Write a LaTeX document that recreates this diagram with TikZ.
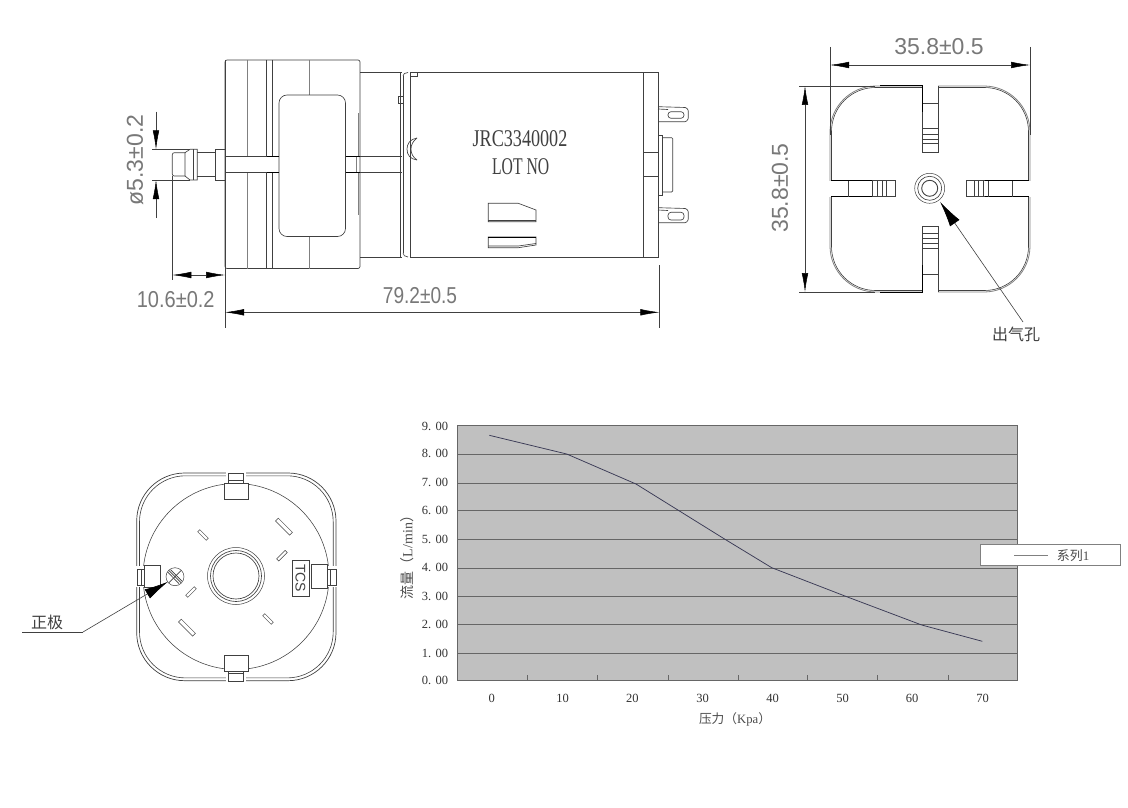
\documentclass[tikz,border=0pt]{standalone}
\usepackage{fontspec}
\usetikzlibrary{arrows.meta,calc}
\setmainfont{Liberation Serif}
\newfontfamily\dimfont{Liberation Sans}
\newfontfamily\cjkfont{Noto Sans CJK SC}
\newcommand{\fs}[1]{\fontsize{#1}{#1}\selectfont}
\definecolor{plotgray}{HTML}{C0C0C0}
\definecolor{gridgray}{HTML}{666666}
\definecolor{curveblue}{HTML}{3A3A55}
\definecolor{dimgray}{HTML}{787878}
\definecolor{inkgray}{HTML}{404040}
\tikzset{
  part/.style={draw=inkgray,line width=.65pt},
  thinpart/.style={draw=gray,line width=.6pt},
  heavy/.style={draw=black,line width=1pt},
  ext/.style={draw=inkgray,line width=.5pt},
  dimtip/.style={Latex[length=19pt,width=6.5pt,fill=black,color=black]},
  dimline/.style={draw=inkgray,line width=.5pt,{Latex[length=19pt,width=6.5pt,fill=black,color=black]}-{Latex[length=19pt,width=6.5pt,fill=black,color=black]}},
  dimarrow/.style={draw=inkgray,line width=.5pt,-{Latex[length=19pt,width=6.5pt,fill=black,color=black]}},
  leader/.style={draw=inkgray,line width=.6pt,-{Latex[length=24pt,width=10.5pt,fill=black,color=black]}},
  dimtext/.style={inner sep=0pt,text=dimgray,font=\dimfont\fs{23}},
  cjktext/.style={inner sep=0pt,text=inkgray,font=\cjkfont\fs{16}},
  motortext/.style={inner sep=0pt,text=inkgray,font=\fs{24}},
  ticklabel/.style={inner sep=0pt,text=black!80,font=\fs{12.5}},
  axistitle/.style={inner sep=0pt,text=black!70},
  gridline/.style={draw=gridgray,line width=.9pt},
  slotmark/.style={draw=inkgray,line width=.5pt,fill=white,inner sep=0pt,rectangle},
}
\begin{document}
\begin{tikzpicture}[x=1pt,y=-1pt]
\useasboundingbox (0,0) rectangle (1128,808);
\fill[white] (0,0) rectangle (1128,808);

%% ---------- side view ----------
% pump block
\draw[part,rounded corners=2pt] (225,60) rectangle (360,268.5);
\draw[part,line width=.9pt] (225,60) -- (225,268.5);
\draw[thinpart] (247,60) -- (247,156.5) (247,172) -- (247,268.5);
\draw[part] (266.5,60) -- (266.5,156.5) (266.5,172) -- (266.5,268.5);
\draw[part] (272,60) -- (272,156.5) (272,172) -- (272,268.5);
\draw[thinpart] (309.5,60) -- (309.5,95) (309.5,236.5) -- (309.5,268.5);
\draw[thinpart] (358,113) -- (358,156.5) (358,172) -- (358,215);
\draw[part,rounded corners=8pt] (279,95) rectangle (345.5,236.5);
\draw[part] (225,156.5) -- (279,156.5) (225,172) -- (279,172);
\draw[part] (345.5,156.5) -- (402,156.5) (345.5,172) -- (402,172);
\draw[heavy] (266.5,156.5) -- (279,156.5) (266.5,172) -- (279,172);
\draw[heavy] (345.5,156.5) -- (360,156.5) (345.5,172) -- (360,172);
\draw[thinpart] (356,156.5) -- (356,172);
% collar
\draw[part] (360,72) -- (402,72) (360,257) -- (402,257);
\draw[part] (400,72) -- (400,257);
\draw[part] (403,76) -- (403,253);
\draw[part] (398,96.5) rectangle (403,103);
\draw[part] (403,76) .. controls (403,74) and (405,72.5) .. (408,72.5);
\draw[part] (403,253) .. controls (403,255) and (405,257) .. (408,257);
% nozzle
\draw[part,rounded corners=2pt] (185,152.7) -- (172.3,152.7) -- (172.3,176) -- (185,176);
\draw[part] (185,152.7) -- (190,149.3) -- (197.3,149.3) -- (197.3,180) -- (190,180) -- (185,176) -- cycle;
\draw[part] (193.5,149.3) -- (193.5,180);
\draw[part] (197.3,152.7) -- (215,152.7) (197.3,176) -- (215,176);
\draw[part] (215,149) rectangle (225,180);
% motor body
\draw[part] (410,72.5) rectangle (658,257);
\draw[part] (643,72.5) -- (643,257);
\draw[part] (410,72.5) -- (417,72.5) -- (417,76) -- (410,76);
\draw[part] (417,138) .. controls (410,139) and (407,144) .. (407,149) .. controls (407,155) and (410,159) .. (417,160);
\draw[part] (417,138) .. controls (413,141) and (411,145) .. (411,149) .. controls (411,154) and (413,157) .. (417,160);
\node[motortext,xscale=.756] (motorcode) at (520,139) {JRC3340002};
\node[motortext,xscale=.654] (motorlot) at (520.7,166.7) {LOT NO};
\draw[part] (488.3,203.3) -- (518.3,203.3) -- (536,210) -- (536,221.7) -- (488.3,221.7) -- cycle;
\draw[part] (488.3,220) -- (536,220);
\draw[part] (488.3,237) -- (536,237) -- (536,245) -- (518.3,247.7) -- (488.3,247.7) -- cycle;
\draw[heavy] (488.3,237) -- (536,237);
\draw[part] (488.3,246) -- (518.3,246) -- (536,243.5);
% terminals
\draw[part,rounded corners=1pt] (658,106.7) -- (686,107.5) -- (688.3,110) -- (688.3,119) -- (686,121.7) -- (658,121.7);
\draw[part] (658,109) -- (668,109.5);
\draw[part,rounded corners=3pt] (668,111.7) rectangle (684,118.3);
\draw[part,rounded corners=1pt] (658,207.7) -- (686,208.5) -- (688.3,211) -- (688.3,220) -- (686,222.7) -- (658,222.7);
\draw[part] (658,210) -- (668,210.5);
\draw[part,rounded corners=3pt] (668,212.3) rectangle (684,220);
% rear boss
\draw[part] (643,152.7) rectangle (658,176.7);
\draw[part] (658,135) -- (662.7,135) -- (662.7,195) -- (658,195);
\draw[part,rounded corners=1pt] (662.7,137.7) -- (672.7,137.7) -- (672.7,192) -- (662.7,192);
% dimensions of side view
\coordinate (d53a) at (156,149.3);
\coordinate (d53aend) at (156,111.7);
\coordinate (d53b) at (156,180);
\coordinate (d53bend) at (156,218);
\draw[ext] (152,149.3) -- (190,149.3);
\draw[ext] (152,180) -- (190,180);
\draw[dimarrow] (d53aend) -- (d53a);
\draw[dimarrow] (d53bend) -- (d53b);
\node[dimtext,rotate=90] (dimA) at (135,160) {ø5.3±0.2};
\coordinate (d106a) at (172.3,275);
\coordinate (d106b) at (225,275);
\draw[ext] (172.3,176) -- (172.3,280);
\draw[dimline] (d106a) -- (d106b);
\node[dimtext,xscale=.87] (dimB) at (175.7,299.3) {10.6±0.2};
\coordinate (d792a) at (225,312.3);
\coordinate (d792b) at (659.3,312.3);
\draw[ext] (225,268.5) -- (225,328);
\draw[ext] (659.3,265) -- (659.3,328);
\draw[dimline] (d792a) -- (d792b);
\node[dimtext,xscale=.83] (dimC) at (420,296) {79.2±0.5};

%% ---------- front view ----------
\draw[draw=gray,line width=.8pt,rounded corners=46pt] (830,86) rectangle (1030,292);
\draw[draw=inkgray,line width=.6pt,rounded corners=44pt] (831.5,87.5) rectangle (1028.5,290.5);
\draw[heavy] (880,86) -- (922.7,86) (880,292) -- (922.7,292);
\foreach \ya/\yb in {85/152.3,226/293}{\fill[white] (922.7,\ya) rectangle (938.3,\yb);}
\foreach \xa/\xb in {829/895,966/1031}{\fill[white] (\xa,180.7) rectangle (\xb,196.7);}
\draw[part] (922.7,86) -- (922.7,152.3) -- (938.3,152.3) -- (938.3,86);
\draw[heavy] (922.7,86) -- (922.7,112);
\draw[part] (922.7,103) -- (938.3,103) (922.7,128.3) -- (938.3,128.3) (922.7,134.3) -- (938.3,134.3) (922.7,139) -- (938.3,139) (922.7,143.3) -- (938.3,143.3);
\draw[part] (922.7,292) -- (922.7,226) -- (938.3,226) -- (938.3,292);
\draw[heavy] (922.7,292) -- (922.7,265);
\draw[part] (922.7,233) -- (938.3,233) (922.7,238) -- (938.3,238) (922.7,243) -- (938.3,243) (922.7,248) -- (938.3,248) (922.7,274) -- (938.3,274);
\draw[part] (831,180.7) -- (895,180.7) -- (895,196.7) -- (831,196.7);
\draw[heavy] (831,180.7) -- (872,180.7) (831,196.7) -- (872,196.7);
\draw[part] (848.3,180.7) -- (848.3,196.7) (872.3,180.7) -- (872.3,196.7) (877.7,180.7) -- (877.7,196.7) (882.3,180.7) -- (882.3,196.7) (886.7,180.7) -- (886.7,196.7);
\draw[part] (1029,180.7) -- (966,180.7) -- (966,196.7) -- (1029,196.7);
\draw[heavy] (1029,180.7) -- (985,180.7) (1029,196.7) -- (985,196.7);
\draw[part] (974,180.7) -- (974,196.7) (978,180.7) -- (978,196.7) (983,180.7) -- (983,196.7) (988,180.7) -- (988,196.7) (1012,180.7) -- (1012,196.7);
\node[circle,draw=inkgray,line width=.5pt,minimum size=30pt,inner sep=0pt] (outlet) at (929.7,188.3) {};
\draw[part] (outlet.center) circle[radius=12pt];
\draw[part,line width=.9pt] (outlet.center) circle[radius=8pt];
\coordinate (outlettip) at (940,201.7);
\node[cjktext] (outletlabel) at (1016,334) {出气孔};
\coordinate (outletfoot) at (1023,322);
\draw[leader,-{Latex[length=26pt,width=11.5pt,fill=black,color=black]}] (outletfoot) -- (outlettip);
\coordinate (dTa) at (830,65);
\coordinate (dTb) at (1030,65);
\draw[ext] (830,47) -- (830,135) (1030,47) -- (1030,135);
\draw[dimline] (dTa) -- (dTb);
\node[dimtext] (dimD) at (939,47) {35.8±0.5};
\coordinate (dLa) at (805,86);
\coordinate (dLb) at (805,292);
\draw[ext] (799,86) -- (875,86) (799,292) -- (875,292);
\draw[dimline] (dLa) -- (dLb);
\node[dimtext] [rotate=90] (dimE) at (780,188) {35.8±0.5};

%% ---------- rear view ----------
\draw[draw=inkgray,line width=.7pt,rounded corners=48pt] (136.7,473) rectangle (336,680.7);
\draw[draw=inkgray,line width=.6pt,rounded corners=46pt] (139.5,475.8) rectangle (333.2,677.9);
\draw[part,line width=.55pt] (236,576.5) circle[radius=93pt];
\foreach \xa/\ya/\xb/\yb in {226/471/246/483,226/671/246/683,134/566/145/587,327/566/339/587}{\fill[white] (\xa,\ya) rectangle (\xb,\yb);}
% tabs and boxes
\draw[part,fill=white] (224,483) rectangle (248,499);
\draw[part] (228,473) rectangle (243,483);
\draw[part] (228,480.5) -- (243,480.5);
\draw[part,fill=white] (224,655) rectangle (248,671);
\draw[part] (228,671) rectangle (243,681);
\draw[part] (228,673.5) -- (243,673.5);
\draw[part,fill=white] (144,565) rectangle (160,587);
\draw[part] (137,569) rectangle (144,585);
\draw[part] (141,569) -- (141,585);
\draw[part,fill=white] (311,564) rectangle (327,588);
\draw[part] (327,569) rectangle (336,585);
\draw[part] (330,569) -- (330,585);
% hub
\node[circle,draw=inkgray,line width=.5pt,minimum size=57pt,inner sep=0pt] (hub) at (236,576) {};
\draw[part] (hub.center) circle[radius=25.5pt];
\draw[part] (hub.center) circle[radius=23pt];
% TCS
\node[draw=inkgray,line width=.5pt,fill=white,minimum width=36pt,minimum height=17pt,inner sep=0pt,rotate=-90] (tcs) at (300.5,578) {};
\node[inner sep=0pt,text=inkgray,font=\dimfont\fs{14},rotate=-90] (tcstext) at (tcs.center) {TCS};
% screw
\node[circle,draw=inkgray,line width=.5pt,minimum size=18pt,inner sep=0pt] (screw) at (175,576.7) {};
\draw[part] (169,570.7) -- (181,582.7) (181,570.7) -- (169,582.7);
\draw[part] (170.5,569.7) -- (182,581.2) (167.7,572) -- (179,583.7);
% slits
\node[slotmark,minimum width=12pt,minimum height=3pt,rotate=-45] (slitA) at (203,535) {};
\node[slotmark,minimum width=20pt,minimum height=4pt,rotate=-45] (slitB) at (284,526.7) {};
\node[slotmark,minimum width=12pt,minimum height=3pt,rotate=45] (slitC) at (282,555.7) {};
\node[slotmark,minimum width=12pt,minimum height=3pt,rotate=45] (slitD) at (191,592) {};
\node[slotmark,minimum width=20pt,minimum height=4pt,rotate=-45] (slitE) at (187,627.7) {};
\node[slotmark,minimum width=12pt,minimum height=3pt,rotate=-45] (slitF) at (268,619) {};
% leader
\coordinate (postip) at (168,581.7);
\coordinate (posbend) at (83,632);
\coordinate (posend) at (22,632);
\node[cjktext] (poslabel) at (47,622) {正极};
\draw[draw=inkgray,line width=.6pt] (posend) -- (posbend);
\draw[leader] (posbend) -- (postip);

%% ---------- chart ----------
\fill[plotgray] (457.3,425.7) rectangle (1017.7,680.7);
\draw[draw=gridgray,line width=1pt] (457.3,425.7) rectangle (1017.7,680.7);
\foreach \y in {454.3,483.3,510.3,539.3,568,596.3,624.3,653}{\draw[gridline] (457.3,\y) -- (1017.7,\y);}
\foreach \x in {527.7,597.7,668.3,738.3,807.3,877.7,948.3}{\draw[gridline,line width=.6pt] (\x,675) -- (\x,680.7);}
\draw[draw=curveblue,line width=.75pt] (489.3,435.3) -- (566.7,454) -- (636,484) -- (725,539.3) -- (771.7,567.7) -- (846.7,596.7) -- (921.7,625) -- (982.3,641.3);
\foreach \lab/\y [count=\i] in {9. 00/426.5,8. 00/453.5,7. 00/482,6. 00/510.5,5. 00/539.5,4. 00/567,3. 00/596,2. 00/624,1. 00/653,0. 00/680}{\node[ticklabel] (yt\i) at (435,\y) {\lab};}
\foreach \lab/\x [count=\i] in {0/491.7,10/562.7,20/632.3,30/702.7,40/772.7,50/842.7,60/912,70/982.7}{\node[ticklabel] (xt\i) at (\x,698.7) {\lab};}
\node[axistitle,font=\fs{12.7}] (xtitle) at (735,719) {{\cjkfont 压力（}Kpa{\cjkfont ）}};
\node[axistitle,font=\fs{14},rotate=90] (ytitle) at (407,554) {{\cjkfont 流量（}L/min{\cjkfont ）}};
\node[draw=gray,line width=.6pt,fill=white,minimum width=139.7pt,minimum height=21.4pt,inner sep=0pt] (legend) at (1050.2,555) {};
\coordinate (lega) at (1014,555);
\coordinate (legb) at (1048,555);
\draw[draw=gray,line width=.6pt] (lega) -- (legb);
\node[axistitle,font=\fs{13}] (legtext) at (1073,555.5) {{\cjkfont 系列}1};
\end{tikzpicture}
\end{document}
